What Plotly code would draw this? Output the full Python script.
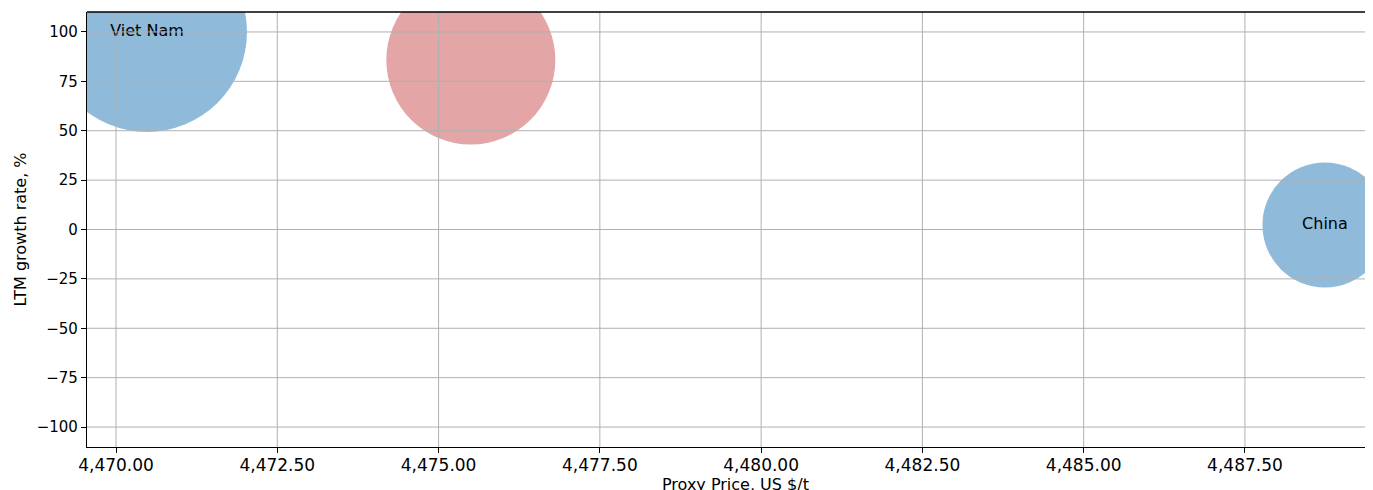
import plotly.graph_objects as go

# bubble data
countries = ["Viet Nam", "", "China"]
proxy_price = [4470.48, 4475.50, 4488.74]
growth_rate = [100.0, 85.8, 2.3]
bubble_size = [200, 169, 125]
bubble_color = ["#8fbad9", "#e3a5a5", "#8fbad9"]

x_ticks = [4470, 4472.5, 4475, 4477.5, 4480, 4482.5, 4485, 4487.5]
y_ticks = [-100, -75, -50, -25, 0, 25, 50, 75, 100]

FONT = "DejaVu Sans, sans-serif"
GRID = "#b0b0b0"
PAGE_PAD = 8  # default body margin of the html page

fig = go.Figure(go.Scatter(
    x=proxy_price, y=growth_rate, mode="markers+text",
    text=countries, textposition="middle center",
    textfont=dict(size=16, color="black", family=FONT),
    marker=dict(size=bubble_size, sizemode="diameter", color=bubble_color,
                opacity=1, line=dict(width=0)),
    hoverinfo="x+y", showlegend=False,
))

# matplotlib draws the grid over the bubbles, so use shapes on top
for v in x_ticks:
    fig.add_shape(type="line", xref="x", yref="paper", x0=v, x1=v, y0=0, y1=1,
                  line=dict(color=GRID, width=1), layer="above")
for v in y_ticks:
    fig.add_shape(type="line", xref="paper", yref="y", x0=0, x1=1, y0=v, y1=v,
                  line=dict(color=GRID, width=1), layer="above")
# top spine
fig.add_shape(type="line", xref="paper", yref="paper", x0=0, x1=1, y0=1, y1=1,
              line=dict(color="black", width=1.3), layer="above")

# x title as annotation: without automargin plotly ignores the standoff
fig.add_annotation(text="Proxy Price, US $/t", xref="paper", yref="paper",
                   x=0.5, y=0, yshift=-37, yanchor="middle", showarrow=False,
                   font=dict(size=16, family=FONT, color="black"))

# axes run a little past the right edge of the window, as in the original
fig.update_layout(
    width=1383 - PAGE_PAD, height=490 - PAGE_PAD,
    margin=dict(l=87 - PAGE_PAD, r=0, t=12 - PAGE_PAD, b=43),
    paper_bgcolor="white", plot_bgcolor="white",
    font=dict(family=FONT, size=16, color="black"),
)
fig.update_xaxes(
    range=[4469.55, 4489.64], tickvals=x_ticks, tickformat=",.2f",
    tickfont=dict(size=17), automargin=False, ticklabelstandoff=-3,
    showgrid=False, zeroline=False, showline=True, linecolor="black", linewidth=1.3,
    ticks="outside", ticklen=5, tickcolor="black",
)
fig.update_yaxes(
    range=[-110.1, 110.1], tickvals=y_ticks,
    tickfont=dict(size=15), automargin=False,
    showgrid=False, zeroline=False, showline=True, linecolor="black", linewidth=1.3,
    ticks="outside", ticklen=5, tickcolor="black",
    title=dict(text="LTM growth rate, %", standoff=6, font=dict(size=16)),
)

fig.write_html("out.html")
